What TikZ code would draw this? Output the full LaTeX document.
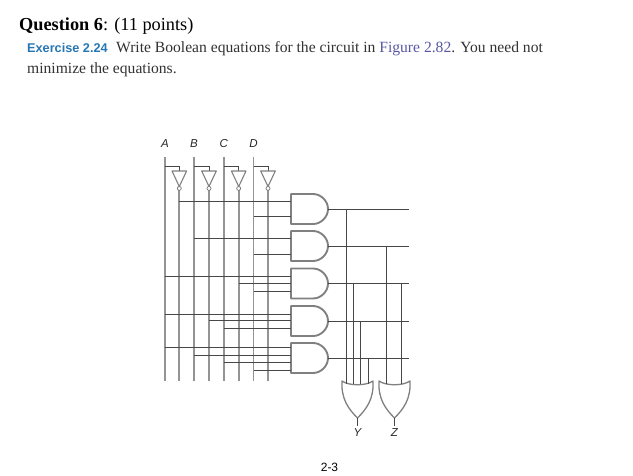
\documentclass[tikz,border=0pt]{standalone}
\usepackage{fontspec}
\setmainfont{Liberation Serif}
\setsansfont{Liberation Sans}
\usetikzlibrary{positioning}
\definecolor{exblue}{RGB}{38,118,178}
\definecolor{figblue}{RGB}{88,88,165}
\definecolor{bodygray}{RGB}{50,50,50}
\tikzset{
  rail/.style={draw=black!42,line width=1.9pt},
  wire/.style={draw=black!72,line width=0.95pt},
  gate/.style={draw=black!50,line width=1.9pt,line join=round},
  pinlabel/.style={font=\sffamily\itshape\fontsize{11.5}{13}\selectfont,text=black!85,inner sep=0pt},
  bodytext/.style={anchor=base west,inner sep=0pt,text=bodygray,font=\fontsize{15.6}{18}\selectfont}
}
\begin{document}
\begin{tikzpicture}[x=1pt,y=-1pt]
  \useasboundingbox (0,0) rectangle (633,476);
  % heading
  \node [anchor=base west,inner sep=0pt,font=\fontsize{18.3}{21}\selectfont] (title) at (19,30.5) {\textbf{Question 6}: (11 points)};
  \node [anchor=base west,inner sep=0pt,text=exblue,font=\sffamily\bfseries\fontsize{12.7}{15}\selectfont] (ex) at (27,53) {Exercise 2.24};
  \node [bodytext] (line1) at (116,53) {Write Boolean equations for the circuit in \textcolor{figblue}{Figure 2.82}. You need not};
  \node [bodytext] (line2) at (27,74) {minimize the equations.};
  \node [inner sep=0pt,font=\sffamily\fontsize{12}{14}\selectfont] (page) at (329.5,467) {2-3};
  % inputs and inverters
  \foreach \name/\x/\nx in {A/165/179.3,B/194/209,C/223.7/238.7,D/253.5/268}{
    \node [pinlabel] (lab\name) at (\x,144) {\name};
    \coordinate (\name) at (\x,157);
    \coordinate (\name b) at (\x,381.5);
    \coordinate (\name n) at (\nx,190.5);
    \coordinate (\name nb) at (\nx,381.5);
    \coordinate (\name tap) at (\x,166.5);
    \coordinate (\name tri) at (\nx,171);
    \draw [rail] (\name) -- (\name b);
    \draw [rail] (\name n) -- (\name nb);
    \draw [wire] (\name tap) -| (\name tri);
    \draw [gate,line width=1.1pt] (\name tri) ++(-7.3,0) -- ++(14.6,0) -- ++(-7.3,15.5) -- cycle;
    \draw [gate,line width=0.8pt] (\nx,188.4) circle (2);
  }
  % and gates
  \foreach \n/\y in {1/209,2/246,3/283.5,4/321,5/358}{
    \coordinate (g\n) at (291,\y);
    \coordinate (o\n) at (328,\y);
    \coordinate (e\n) at (409,\y);
    \draw [gate] (g\n) ++(0,-15) -- ++(22,0) .. controls +(8,0) and +(0,-8) .. ++(15,15)
      .. controls +(0,8) and +(8,0) .. ++(-15,15) -- ++(-22,0) -- cycle;
    \draw [wire] (o\n) -- (e\n);
  }
  % gate inputs
  \foreach \src/\y in {An/201,D/216,B/238.3,D/254,A/276,Cn/283.3,D/291,A/314,Bn/320.7,C/328.3,A/347.3,B/355,C/362.3,D/370}{
    \coordinate (i) at (291,\y);
    \draw [wire] (\src |- i) -- (i);
  }
  % or gates
  \foreach \n/\x in {Y/342,Z/379}{
    \coordinate (or\n) at (\x,381);
    \coordinate (out\n) at (\x+15.5,418);
    \coordinate (end\n) at (\x+15.5,426);
    \draw [gate,line width=1.3pt] (or\n) .. controls +(7,5) and +(-7,5) .. ++(31,0)
      .. controls +(1,18) and +(9,-9) .. (out\n)
      .. controls +(-9,-9) and +(-1,18) .. (or\n) -- cycle;
    \draw [wire] (out\n) -- (end\n);
    \node [pinlabel] (lab\n) at (\x+15.5,433) {\n};
  }
  % outputs to or gates
  \foreach \src/\x in {o1/346.3,o3/353.7,o4/360.7,o5/368.3,o2/386.7,o3/401.7}{
    \coordinate (t) at (\x,384);
    \draw [wire] (\src -| t) -- (t);
  }
\end{tikzpicture}
\end{document}
